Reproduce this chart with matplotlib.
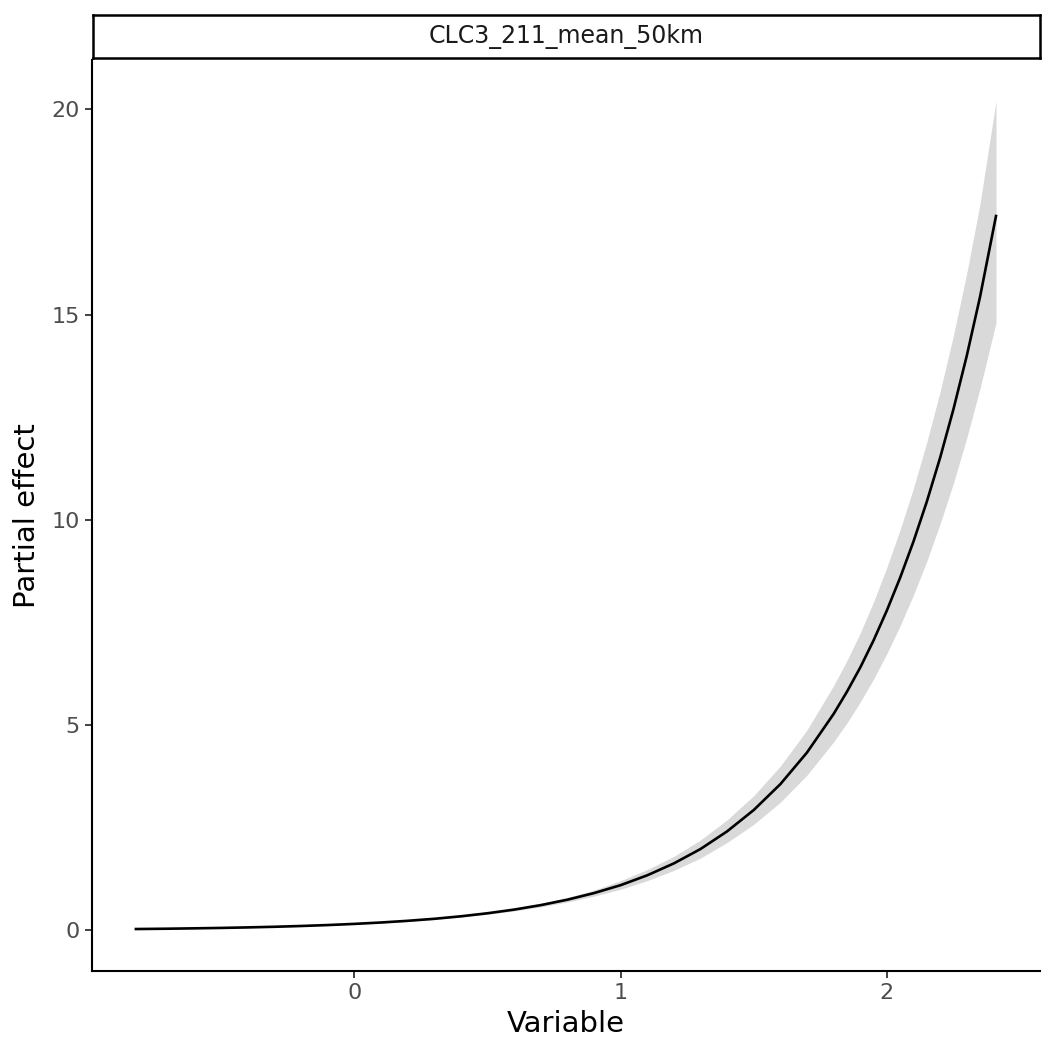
import matplotlib.pyplot as plt

# values
variable = [-0.82, -0.7, -0.6, -0.5, -0.4, -0.3, -0.2, -0.1, 0.0, 0.1, 0.2, 0.3,
            0.4, 0.5, 0.6, 0.7, 0.8, 0.9, 1.0, 1.1, 1.2, 1.3, 1.4, 1.5, 1.6, 1.7,
            1.8, 1.85, 1.9, 1.95, 2.0, 2.05, 2.1, 2.15, 2.2, 2.25, 2.3, 2.35, 2.41]
effect = [0.032, 0.040, 0.049, 0.059, 0.072, 0.087, 0.106, 0.129, 0.157, 0.191,
          0.232, 0.281, 0.342, 0.416, 0.505, 0.614, 0.746, 0.907, 1.10, 1.34,
          1.63, 1.98, 2.41, 2.93, 3.56, 4.33, 5.27, 5.81, 6.40, 7.06, 7.79, 8.59,
          9.47, 10.44, 11.51, 12.69, 13.99, 15.43, 17.4]
lower = [0.027, 0.034, 0.042, 0.051, 0.063, 0.077, 0.095, 0.117, 0.144, 0.177,
         0.216, 0.263, 0.321, 0.391, 0.472, 0.571, 0.690, 0.834, 1.00, 1.21,
         1.46, 1.76, 2.14, 2.58, 3.12, 3.78, 4.59, 5.05, 5.56, 6.12, 6.74, 7.42,
         8.17, 8.99, 9.90, 10.89, 11.99, 13.20, 14.8]
upper = [0.037, 0.046, 0.056, 0.067, 0.081, 0.097, 0.117, 0.141, 0.170, 0.205,
         0.248, 0.299, 0.363, 0.441, 0.538, 0.657, 0.802, 0.980, 1.21, 1.48,
         1.80, 2.20, 2.69, 3.28, 4.00, 4.88, 5.96, 6.57, 7.24, 8.00, 8.84, 9.76,
         10.77, 11.89, 13.12, 14.49, 16.0, 17.70, 20.2]
x_ticks = [0, 1, 2]
y_ticks = [0, 5, 10, 15, 20]
facet_label = 'CLC3_211_mean_50km'

fig = plt.figure(figsize=(10.56, 10.56), dpi=100)
ax = fig.add_axes([0.0871, 0.0805, 0.8977, 0.8627])

ax.fill_between(variable, lower, upper, color='#D9D9D9', linewidth=0)
ax.plot(variable, effect, color='black', linewidth=1.9, solid_joinstyle='round')

ax.set_xlim(-0.985, 2.575)
ax.set_ylim(-0.99, 21.2)
ax.set_xticks(x_ticks)
ax.set_yticks(y_ticks)

for side in ['top', 'right']:
    ax.spines[side].set_visible(False)
for side in ['left', 'bottom']:
    ax.spines[side].set_linewidth(1.5)
    ax.spines[side].set_color('black')

ax.tick_params(axis='both', length=5, width=1.3, color='#333333',
               labelsize=16, labelcolor='#4D4D4D', pad=4)

ax.set_xlabel('Variable', fontsize=21, color='black', labelpad=5)
ax.set_ylabel('Partial effect', fontsize=21, color='black', labelpad=7)

# facet strip on top
strip = fig.add_axes([0.0880, 0.9451, 0.8968, 0.0407])
strip.set_xticks([])
strip.set_yticks([])
for side in strip.spines.values():
    side.set_linewidth(1.8)
    side.set_color('black')
strip.text(0.5, 0.5, facet_label, ha='center', va='center',
           fontsize=17, color='#1A1A1A', transform=strip.transAxes)

plt.savefig('out.png', dpi=100)
